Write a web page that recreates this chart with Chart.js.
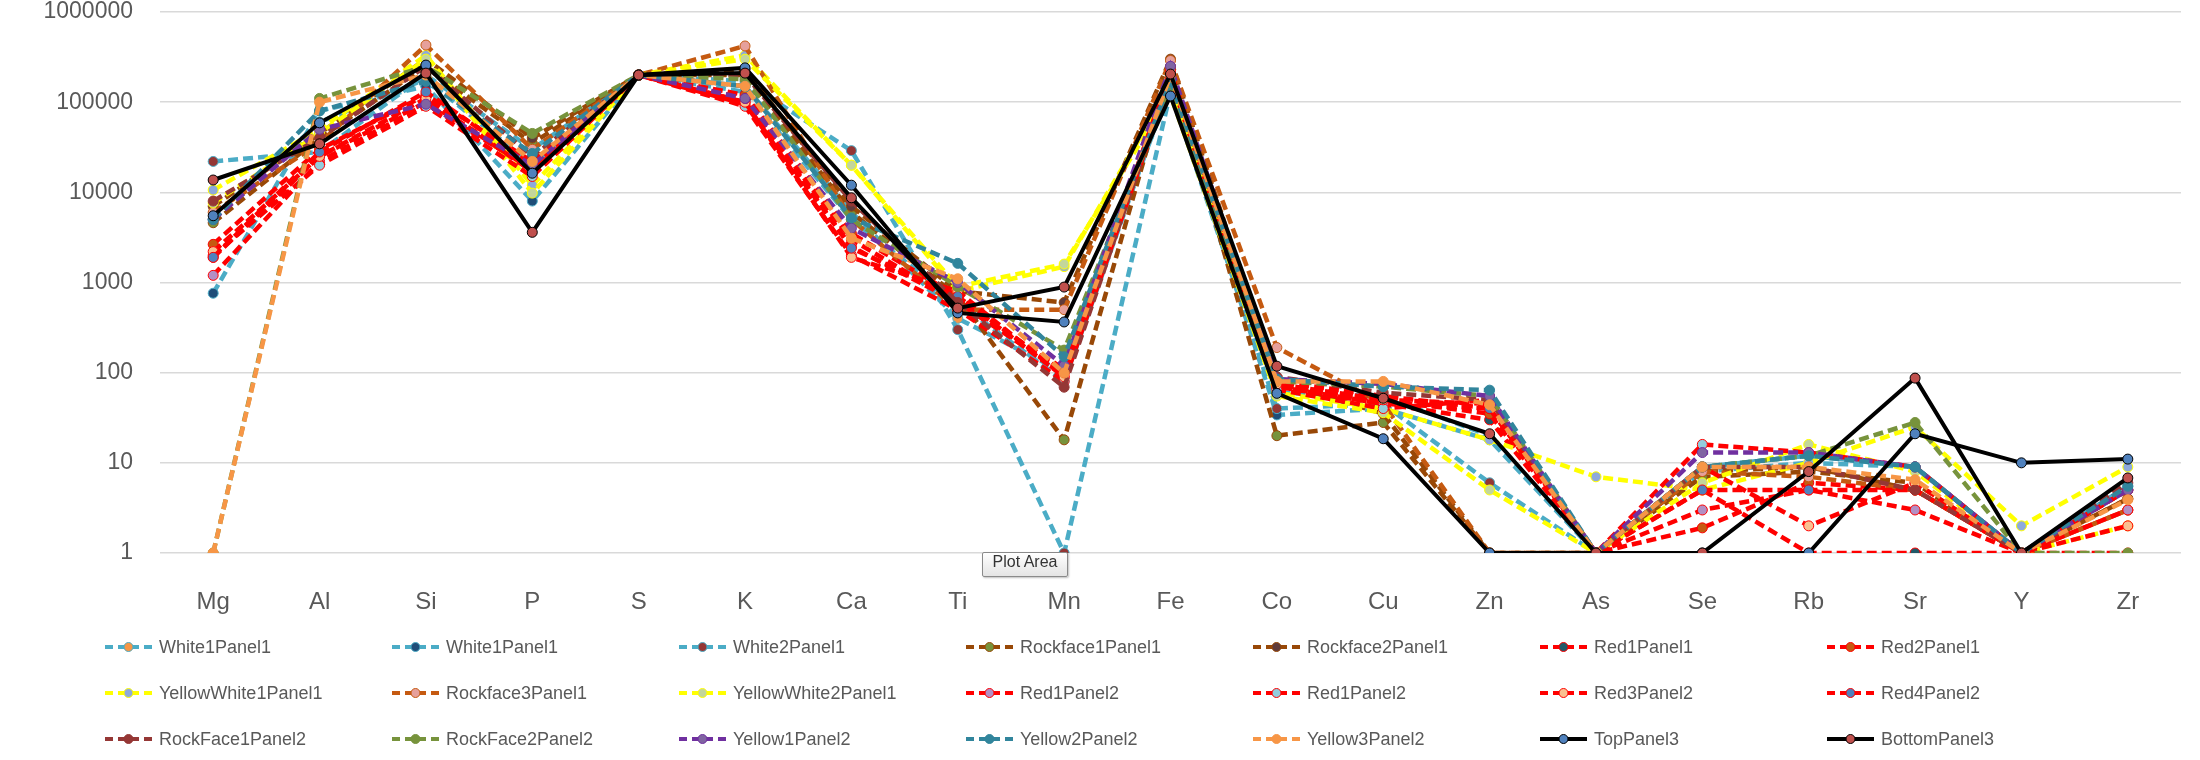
<!DOCTYPE html>
<html>
<head>
<meta charset="utf-8">
<script src="https://cdn.jsdelivr.net/npm/chart.js@4.4.1/dist/chart.umd.min.js"></script>
<style>
  html, body { margin: 0; padding: 0; background: #fff; }
  #wrap { position: relative; width: 2200px; height: 760px; }
  #tip {
    position: absolute; left: 982px; top: 552px; width: 86px; height: 25px;
    box-sizing: border-box; text-align: center; line-height: 23px;
    font: 16px 'Liberation Sans', Arial, sans-serif; color: #333;
    border: 1px solid #8a8a8a; border-radius: 2px;
    background: linear-gradient(#ffffff, #e4e4e4);
    box-shadow: 1px 1px 2px rgba(0, 0, 0, 0.25);
  }
</style>
</head>
<body>
<div id="wrap">
  <canvas id="chart" width="2200" height="760"></canvas>
  <div id="tip">Plot Area</div>
</div>
<script>
// categories and y ticks
const elements = ['Mg', 'Al', 'Si', 'P', 'S', 'K', 'Ca', 'Ti', 'Mn', 'Fe', 'Co', 'Cu', 'Zn', 'As', 'Se', 'Rb', 'Sr', 'Y', 'Zr'];
const yTicks = [1, 10, 100, 1000, 10000, 100000, 1000000];

// series values
const white1Panel1a      = [5000, 60000, 180000, 20000, 200000, 150000, 6000, 400, 100, 150000, 60, 55, 20, 1, 8, 10, 9, 1, 5];
const white1Panel1b      = [760, 80000, 150000, 8000, 200000, 130000, 5000, 600, 80, 160000, 34, 40, 18, 1, 9, 12, 9, 1, 5.5];
const white2Panel1       = [22000, 28000, 200000, 30000, 200000, 170000, 29000, 300, 1, 130000, 40, 45, 6, 1, 9, 12, 9, 1, 5];
const rockface1Panel1    = [4600, 40000, 250000, 35000, 200000, 200000, 6000, 700, 18, 250000, 20, 28, 1, 1, 7, 8, 6, 1, 4];
const rockface2Panel1    = [7000, 45000, 300000, 40000, 200000, 230000, 7000, 800, 600, 300000, 80, 35, 1, 1, 8, 9, 5, 1, 4];
const red1Panel1         = [1900, 25000, 100000, 20000, 200000, 100000, 3000, 600, 100, 200000, 70, 45, 30, 1, 5, 1, 1, 1, 1];
const red2Panel1         = [2650, 30000, 120000, 22000, 200000, 120000, 3500, 700, 90, 180000, 75, 50, 35, 1, 1.9, 6, 5, 1, 3];
const yellowWhite1Panel1 = [10600, 50000, 330000, 12000, 200000, 330000, 20000, 800, 1500, 150000, 60, 40, 18, 7, 5, 10, 25, 2, 9];
const rockface3Panel1    = [6000, 35000, 430000, 30000, 200000, 420000, 5000, 500, 500, 290000, 190, 45, 1, 1, 8, 7, 5, 1, 3];
const yellowWhite2Panel1 = [7600, 45000, 300000, 9800, 200000, 300000, 20000, 900, 1600, 120000, 55, 36, 5, 1, 6, 16, 8, 1, 2];
const red1Panel2a        = [1200, 22000, 95000, 18000, 200000, 95000, 2500, 600, 110, 200000, 70, 45, 40, 1, 3, 5, 3, 1, 3];
const red1Panel2b        = [2000, 20000, 90000, 15000, 200000, 90000, 2000, 500, 80, 180000, 65, 40, 50, 1, 16, 13, 9, 1, 5];
const red3Panel2         = [2200, 25000, 110000, 17000, 200000, 100000, 1900, 800, 90, 220000, 75, 50, 45, 1, 9, 2, 6, 1, 2];
const red4Panel2         = [1900, 28000, 130000, 20000, 200000, 110000, 2400, 700, 100, 190000, 80, 55, 40, 1, 5, 5, 5, 1, 5];
const rockFace1Panel2    = [8000, 40000, 250000, 25000, 200000, 200000, 8000, 600, 69, 200000, 90, 60, 50, 1, 9, 9, 5, 1, 6];
const rockFace2Panel2    = [1, 110000, 250000, 45000, 200000, 180000, 5000, 900, 178, 150000, 80, 70, 55, 1, 9, 12, 28, 1, 1];
const yellow1Panel2      = [5000, 50000, 95000, 20000, 200000, 110000, 4000, 1000, 120, 250000, 85, 75, 55, 1, 13, 13, 9, 1, 5];
const yellow2Panel2      = [5000, 80000, 170000, 27000, 200000, 150000, 5200, 1630, 150, 170000, 85, 70, 64, 1, 9, 12, 9, 1, 5.5];
const yellow3Panel2      = [1, 100000, 200000, 22000, 200000, 150000, 3100, 1100, 99, 200000, 80, 80, 44, 1, 9, 9, 6.5, 1, 3.9];
const topPanel3          = [5500, 59000, 258000, 16300, 200000, 240000, 12000, 460, 365, 117000, 59, 18.5, 1, 1, 1, 1, 21, 10, 11];
const bottomPanel3       = [13700, 34500, 210000, 3600, 200000, 210000, 8700, 520, 890, 205000, 118, 52, 21, 1, 1, 8, 87, 1, 6.8];

const series = [
    ['White1Panel1', white1Panel1a],
    ['White1Panel1', white1Panel1b],
    ['White2Panel1', white2Panel1],
    ['Rockface1Panel1', rockface1Panel1],
    ['Rockface2Panel1', rockface2Panel1],
    ['Red1Panel1', red1Panel1],
    ['Red2Panel1', red2Panel1],
    ['YellowWhite1Panel1', yellowWhite1Panel1],
    ['Rockface3Panel1', rockface3Panel1],
    ['YellowWhite2Panel1', yellowWhite2Panel1],
    ['Red1Panel2', red1Panel2a],
    ['Red1Panel2', red1Panel2b],
    ['Red3Panel2', red3Panel2],
    ['Red4Panel2', red4Panel2],
    ['RockFace1Panel2', rockFace1Panel2],
    ['RockFace2Panel2', rockFace2Panel2],
    ['Yellow1Panel2', yellow1Panel2],
    ['Yellow2Panel2', yellow2Panel2],
    ['Yellow3Panel2', yellow3Panel2],
    ['TopPanel3', topPanel3],
    ['BottomPanel3', bottomPanel3]
];

// line colour, marker fill, solid?
const styles = [
    ['#4BACC6', '#F79646', false],
    ['#4BACC6', '#1F4E79', false],
    ['#4BACC6', '#943634', false],
    ['#984807', '#77933C', false],
    ['#984807', '#5F3B3B', false],
    ['#FF0000', '#215968', false],
    ['#FF0000', '#C55A11', false],
    ['#FFFF00', '#8EA9DB', false],
    ['#C55A11', '#E6A09B', false],
    ['#FFFF00', '#C3D69B', false],
    ['#FF0000', '#B38FC4', false],
    ['#FF0000', '#93CDDD', false],
    ['#FF0000', '#FAC090', false],
    ['#FF0000', '#4F81BD', false],
    ['#953735', '#953735', false],
    ['#77933C', '#77933C', false],
    ['#7030A0', '#8064A2', false],
    ['#31859C', '#31859C', false],
    ['#F79646', '#F79646', false],
    ['#000000', '#4F81BD', true],
    ['#000000', '#C0504D', true]
];

const textColor = '#595959';
const fontFamily = "'Liberation Sans', Arial, sans-serif";

// legend laid out in columns, like the spreadsheet
const gridLegend = {
    id: 'gridLegend',
    afterDraw(chart) {
        const ctx = chart.ctx;
        ctx.save();
        chart.data.datasets.forEach((ds, i) => {
            const col = i % 7;
            const row = Math.floor(i / 7);
            const x = 105 + col * 287;
            const y = 647 + row * 46;
            ctx.setLineDash(ds.borderDash.length ? [8, 5] : []);
            ctx.strokeStyle = ds.borderColor;
            ctx.lineWidth = 4;
            ctx.beginPath();
            ctx.moveTo(x, y);
            ctx.lineTo(x + 47, y);
            ctx.stroke();
            ctx.setLineDash([]);
            ctx.fillStyle = ds.pointBackgroundColor;
            ctx.strokeStyle = ds.pointBorderColor;
            ctx.lineWidth = 1;
            ctx.beginPath();
            ctx.arc(x + 23.5, y, 4.5, 0, Math.PI * 2);
            ctx.fill();
            ctx.stroke();
            ctx.fillStyle = textColor;
            ctx.font = '18px ' + fontFamily;
            ctx.textBaseline = 'middle';
            ctx.fillText(ds.label, x + 54, y + 1);
        });
        ctx.restore();
    }
};

const datasets = series.map(([label, values], i) => {
    const [line, marker, solid] = styles[i];
    return {
        label: label,
        data: values,
        borderColor: line,
        borderWidth: solid ? 4 : 4.5,
        borderDash: solid ? [] : [10, 5],
        pointBackgroundColor: marker,
        pointBorderColor: solid ? '#000000' : line,
        pointBorderWidth: 1,
        pointRadius: 5,
        tension: 0,
        order: series.length - i
    };
});

new Chart(document.getElementById('chart'), {
    type: 'line',
    data: { labels: elements, datasets: datasets },
    options: {
        responsive: false,
        animation: false,
        layout: { padding: { top: 12, right: 19, left: 0, bottom: 0 } },
        plugins: {
            legend: { display: false },
            tooltip: { enabled: false }
        },
        scales: {
            x: {
                offset: true,
                grid: { display: false },
                border: { display: false },
                ticks: { color: textColor, font: { family: fontFamily, size: 24 }, padding: 27, maxRotation: 0 },
                afterFit: (scale) => { scale.height = 207; scale.paddingLeft = 0; scale.paddingRight = 0; }
            },
            y: {
                type: 'logarithmic',
                min: 1,
                max: 1000000,
                afterBuildTicks: (scale) => { scale.ticks = yTicks.map(v => ({ value: v })); },
                ticks: { color: textColor, font: { family: fontFamily, size: 23 }, padding: 27, callback: (v) => String(v) },
                grid: { color: '#D9D9D9', lineWidth: 1.5, drawTicks: false },
                border: { display: false },
                afterFit: (scale) => { scale.width = 160; scale.paddingTop = 0; scale.paddingBottom = 0; }
            }
        }
    },
    plugins: [gridLegend]
});
</script>
</body>
</html>
